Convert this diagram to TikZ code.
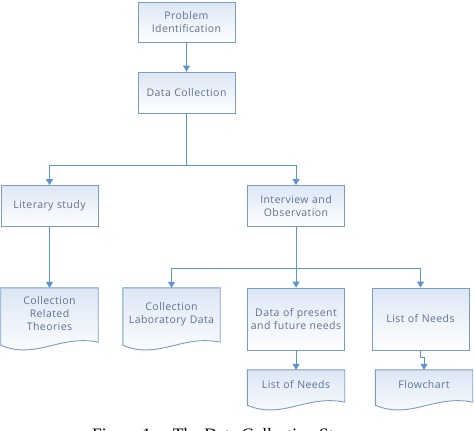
\documentclass[tikz,border=0pt]{standalone}
\usepackage{fontspec}
\setmainfont{Open Sans}[LetterSpace=4]
\newfontfamily\capfont{Liberation Serif}
\usetikzlibrary{arrows.meta}
\definecolor{boxline}{HTML}{7C9CC8}
\definecolor{arrline}{HTML}{5B93D3}
\definecolor{boxtext}{HTML}{5F7391}
\definecolor{boxtop}{HTML}{DCE7F5}
\begin{document}
\begin{tikzpicture}[x=1pt,y=-1pt,
    boxtxt/.style={minimum width=97pt,text width=94pt,align=center,inner sep=0pt,
        text=boxtext,font=\fontsize{10.5}{13}\selectfont},
    box/.style={boxtxt,draw=boxline,line width=0.9pt,top color=boxtop,bottom color=white},
    docbox/.style={boxtxt},
    link/.style={draw=arrline,line width=1pt,-{Triangle[width=7pt,length=6pt]}}]

\useasboundingbox (0,0) rectangle (474,431);

\def\boxh{41pt}

\node[box,minimum height=40pt] (prob) at (186.5,22) {Problem\\Identification};
\node[box,minimum height=\boxh] (dcol) at (186.5,92.5) {Data Collection};
\node[box,minimum height=\boxh] (lit) at (49.5,206) {Literary study};
\node[box,minimum height=\boxh] (intv) at (296,206) {Interview and\\Observation};

\foreach \n/\x/\y/\h in {theo/49.5/314/52,labo/171.5/314/52,lneed/296/385/30,flow/424/385/30}
{
    \path (\x,\y) node[docbox,minimum height=\h pt] (\n) {};
    \shade[top color=boxtop,bottom color=white,draw=boxline,line width=0.9pt]
        (\n.north west) -- (\n.north east) -- ([yshift=-2pt]\n.south east)
        .. controls +(-38,-8) and +(35,15) .. ([yshift=-5pt]\n.south west) -- cycle;
}
\node[docbox,minimum height=52pt] at (theo) {Collection\\Related\\Theories};
\node[docbox,minimum height=52pt] at (labo) {Collection\\Laboratory Data};
\node[docbox,minimum height=30pt] at (lneed) {List of Needs};
\node[docbox,minimum height=30pt] at (flow) {Flowchart};

\node[box,minimum height=62pt] (pres) at (296,319) {Data of present\\and future needs};
\node[box,minimum height=62pt] (need) at (420.5,319) {List of Needs};

\coordinate (split1) at (186.5,165);
\coordinate (split2) at (296,268);

\draw[link] (prob) -- (dcol);
\draw[draw=arrline,line width=1pt] (dcol) -- (split1);
\draw[link] (split1) -| (lit);
\draw[link] (split1) -| (intv);
\draw[link] (lit) -- (theo);
\draw[draw=arrline,line width=1pt] (intv) -- (split2);
\draw[link] (split2) -| (labo);
\draw[link] (split2) -- (pres);
\draw[link] (split2) -| (need);
\draw[link] (pres) -- (lneed);
\draw[link] (need.south) -- ++(0,7) -| (flow.north);

\node[anchor=base west,inner sep=0pt,font=\capfont\fontsize{17.5}{20}\selectfont] (cap) at (92,440)
    {Figure 1.\quad The Data Collection Stages};

\end{tikzpicture}
\end{document}
